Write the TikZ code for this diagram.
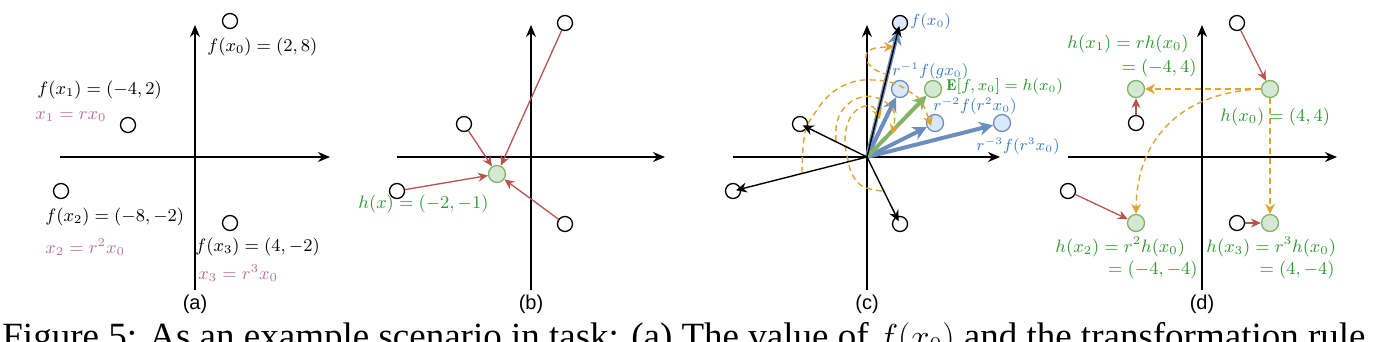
\documentclass[tikz,border=0pt]{standalone}
\usepackage{fontspec}
\usetikzlibrary{arrows.meta}
\newfontfamily\lsans{Liberation Sans}
\newfontfamily\lserif{Liberation Serif}
\definecolor{redc}{HTML}{B85450}
\definecolor{gfill}{HTML}{D5E8D4}
\definecolor{gstroke}{HTML}{82B366}
\definecolor{gtext}{HTML}{2E9A2E}
\definecolor{bfill}{HTML}{DAE8FC}
\definecolor{bstroke}{HTML}{6C8EBF}
\definecolor{btext}{HTML}{3F7CC4}
\definecolor{orc}{HTML}{DDA430}
\definecolor{pinkc}{HTML}{B5739D}
\tikzset{
  pt/.style={circle, draw=black, line width=0.65pt, minimum size=7.5pt, inner sep=0pt},
  gpt/.style={circle, draw=gstroke, fill=gfill, line width=0.65pt, minimum size=8.5pt, inner sep=0pt},
  bpt/.style={circle, draw=bstroke, fill=bfill, line width=0.65pt, minimum size=8.5pt, inner sep=0pt},
  axisline/.style={line width=0.7pt, -{Stealth[length=6pt,width=5pt]}},
  redarr/.style={draw=redc, line width=0.65pt, -{Stealth[length=5pt,width=4.5pt]}},
  blkarr/.style={draw=black, line width=0.7pt, -{Stealth[length=5.5pt,width=5pt]}},
  bluearr/.style={draw=bstroke, line width=2pt, -{Stealth[length=7pt,width=7pt]}},
  greenarr/.style={draw=gstroke, line width=2pt, -{Stealth[length=7pt,width=7pt]}},
  orarr/.style={draw=orc, line width=0.7pt, dash pattern=on 3pt off 2pt, -{Stealth[length=5pt,width=5pt]}},
  lbl/.style={inner sep=0pt, font=\fontsize{9.2pt}{11pt}\selectfont},
  clbl/.style={inner sep=0pt, font=\fontsize{7.8pt}{9pt}\selectfont},
  sub/.style={inner sep=0pt, font=\lsans\fontsize{10pt}{12pt}\selectfont}
}
\begin{document}
\begin{tikzpicture}[x=0.5pt,y=-0.5pt]
\useasboundingbox (0,0) rectangle (1376,342);
\clip (0,0) rectangle (1376,342);
\fill[white] (0,0) rectangle (1376,342);

% ---------------- panel (a)
\coordinate (aL) at (60,157); \coordinate (aR) at (330,157);
\coordinate (aB) at (195,290); \coordinate (aT) at (195,25);
\draw[axisline] (aL) -- (aR);
\draw[axisline] (aB) -- (aT);
\node[pt] (a0) at (230,21) {};
\node[pt] (a1) at (128,125) {};
\node[pt] (a2) at (61,191) {};
\node[pt] (a3) at (230,223) {};
\node[lbl, anchor=west] (la0) at (207,47) {$f(x_0)=(2,8)$};
\node[lbl, anchor=west] (la1) at (37,90) {$f(x_1)=(-4,2)$};
\node[lbl, anchor=west, text=pinkc] (pa1) at (35,117) {$x_1=rx_0$};
\node[lbl, anchor=west] (la2) at (45,217) {$f(x_2)=(-8,-2)$};
\node[lbl, anchor=west, text=pinkc] (pa2) at (45,247) {$x_2=r^2x_0$};
\node[lbl, anchor=west] (la3) at (195,247) {$f(x_3)=(4,-2)$};
\node[lbl, anchor=west, text=pinkc] (pa3) at (198,273) {$x_3=r^3x_0$};
\node[sub] (sa) at (195,304) {(a)};

% ---------------- panel (b)
\coordinate (bL) at (397,157); \coordinate (bR) at (665,157);
\coordinate (bB) at (531,290); \coordinate (bT) at (531,25);
\draw[axisline] (bL) -- (bR);
\draw[axisline] (bB) -- (bT);
\node[pt] (b0) at (565,23) {};
\node[pt] (b1) at (464,124) {};
\node[pt] (b2) at (397,191) {};
\node[pt] (b3) at (565,224) {};
\node[gpt] (bh) at (497,174) {};
\draw[redarr] (b0) -- (bh);
\draw[redarr] (b1) -- (bh);
\draw[redarr] (b2) -- (bh);
\draw[redarr] (b3) -- (bh);
\node[lbl, anchor=west, text=gtext] (lbh) at (358,204) {$h(x)=(-2,-1)$};
\node[sub] (sb) at (531,304) {(b)};

% ---------------- panel (c)
\coordinate (cL) at (733,157); \coordinate (cR) at (1000,157);
\coordinate (cB) at (867,290); \coordinate (cT) at (867,25);
\coordinate (O) at (867,157);
\draw[axisline] (cL) -- (cR);
\draw[axisline] (cB) -- (cT);
\node[pt, fill=bfill] (c0) at (900,23) {};
\node[pt] (c1) at (800,124) {};
\node[pt] (c2) at (733,191) {};
\node[pt] (c3) at (900,224) {};
\node[bpt] (cb1) at (900,89) {};
\node[bpt] (cb2) at (935,123) {};
\node[bpt] (cb3) at (1002,123) {};
\node[gpt] (cg) at (933,89) {};
\draw[bluearr] (O) -- (c0);
\draw[bluearr] (O) -- (cb1);
\draw[bluearr] (O) -- (cb2);
\draw[bluearr] (O) -- (cb3);
\draw[greenarr] (O) -- (cg);
% rotation arcs
\draw[orarr] plot[smooth, tension=0.7] coordinates {(889,75) (874,69) (866,58) (872,49) (894,47)};
\draw[orarr] plot[smooth, tension=0.7] coordinates {(802,173) (805,133) (817,110) (833,92) (853,82) (873,80) (893,83) (910,92) (922,103) (931,126)};
\draw[orarr] plot[smooth, tension=0.7] coordinates {(882,191) (864,187) (853,176) (848,160) (845,140) (849,120) (860,108) (873,107) (880,119)};
\draw[orarr] plot[smooth, tension=0.7] coordinates {(836,141) (837,122) (846,106) (862,97) (880,99) (894,112) (892,134)};
\draw[blkarr, shorten >=1.5pt] (O) -- (c0.center);
\draw[blkarr, shorten >=1.5pt] (O) -- (c1.center);
\draw[blkarr, shorten >=1.5pt] (O) -- (c2.center);
\draw[blkarr, shorten >=1.5pt] (O) -- (c3.center);
\node[clbl, anchor=west, text=btext] (lc0) at (910,22) {$f(x_0)$};
\node[clbl, anchor=west, text=btext] (lc1) at (892,71) {$r^{-1}f(gx_0)$};
\node[clbl, anchor=west, text=gtext] (lcg) at (946,87) {$\mathbf{E}[f,x_0]=h(x_0)$};
\node[clbl, anchor=west, text=btext] (lc2) at (933,106) {$r^{-2}f(r^2x_0)$};
\node[clbl, anchor=west, text=btext] (lc3) at (976,146) {$r^{-3}f(r^3x_0)$};
\node[sub] (sc) at (867,304) {(c)};

% ---------------- panel (d)
\coordinate (dL) at (1068,157); \coordinate (dR) at (1337,157);
\coordinate (dB) at (1202,290); \coordinate (dT) at (1202,25);
\draw[axisline] (dL) -- (dR);
\draw[axisline] (dB) -- (dT);
\node[gpt] (dh0) at (1270,89) {};
\node[gpt] (dh1) at (1136,89) {};
\node[gpt] (dh2) at (1136,223) {};
\node[gpt] (dh3) at (1270,223) {};
\node[pt] (d0) at (1237,23) {};
\node[pt] (d1) at (1136,123) {};
\node[pt] (d2) at (1068,191) {};
\node[pt] (d3) at (1237,223) {};
\draw[redarr] (d0) -- (dh0);
\draw[redarr] (d1) -- (dh1);
\draw[redarr] (d2) -- (dh2);
\draw[redarr] (d3) -- (dh3);
\draw[orarr] (dh0) -- (dh1);
\draw[orarr] (dh0) -- (dh3);
\draw[orarr] (dh0.west) .. controls (1185,92) and (1137,135) .. (dh2.north);
\node[lbl, anchor=west, text=gtext] (ld1) at (1067,44) {$h(x_1)=rh(x_0)$};
\node[lbl, anchor=east, text=gtext] (ld1b) at (1197,68) {$=(-4,4)$};
\node[lbl, anchor=west, text=gtext] (ld0) at (1220,117) {$h(x_0)=(4,4)$};
\node[lbl, anchor=west, text=gtext] (ld2) at (1055,247) {$h(x_2)=r^2h(x_0)$};
\node[lbl, anchor=east, text=gtext] (ld2b) at (1198,270) {$=(-4,-4)$};
\node[lbl, anchor=west, text=gtext] (ld3) at (1206,247) {$h(x_3)=r^3h(x_0)$};
\node[lbl, anchor=east, text=gtext] (ld3b) at (1335,270) {$=(4,-4)$};
\node[sub] (sd) at (1202,304) {(d)};

% ---------------- caption (cut off at the bottom)
\node[inner sep=0pt, anchor=base west, font=\lserif\fontsize{18.5pt}{22pt}\selectfont] (cap) at (2,348)
  {Figure 5: As an example scenario in task: (a) The value of $f(x_0)$ and the transformation rule $(x_0,r,h)$};
\end{tikzpicture}
\end{document}
